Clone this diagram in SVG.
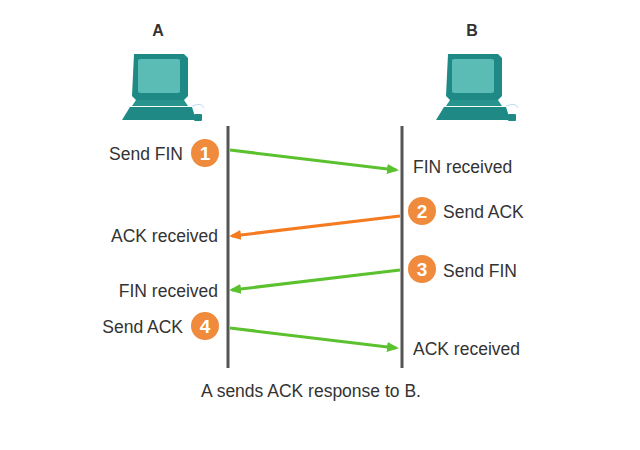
<svg xmlns="http://www.w3.org/2000/svg" width="640" height="450" viewBox="0 0 640 450">
<style>
text{font-family:"Liberation Sans",Arial,sans-serif;font-size:17.5px;fill:#333}
.h{font-weight:bold;font-size:16px;text-anchor:middle}
.e{text-anchor:end}
.n{fill:#fff;font-weight:bold;font-size:19px;text-anchor:middle}
.c{fill:#f08a3c;stroke:#fff;stroke-width:2}
.g{stroke:#5cc12e;stroke-width:3;fill:none}
.o{stroke:#f47b20;stroke-width:3;fill:none}
.v{stroke:#555;stroke-width:3}
</style>
<defs>
<marker id="ag" markerWidth="12" markerHeight="10" refX="9" refY="5" orient="auto" markerUnits="userSpaceOnUse"><path d="M0,0 L12,5 L0,10 z" fill="#5cc12e"/></marker>
<marker id="ao" markerWidth="12" markerHeight="10" refX="9" refY="5" orient="auto" markerUnits="userSpaceOnUse"><path d="M0,0 L12,5 L0,10 z" fill="#f47b20"/></marker>
<g id="pc">
<path d="M12,0 L62,0 L66,4 L66,42 L62,46 L14,46 L10,42 Z" fill="#1f8a85"/>
<rect x="16" y="5" width="42" height="34" rx="2" fill="#5bbcb5"/>
<path d="M14,46 L62,46 L66,52 L10,52 Z" fill="#27948e"/>
<path d="M8,53 L70,53 L74,66 L0,66 Z" fill="#1f8a85"/>
<rect x="72" y="60" width="8" height="7" rx="1" fill="#1f8a85"/>
<path d="M70,52 Q80,48 82,54" stroke="#bde" fill="none" stroke-width="1"/>
</g>
</defs>
<text class="h" x="158" y="36">A</text>
<text class="h" x="472" y="36">B</text>
<use href="#pc" x="122" y="54"/>
<use href="#pc" x="436" y="54"/>
<g id="connectors">
<line class="v" x1="228" y1="126" x2="228" y2="368"/>
<line class="v" x1="402" y1="126" x2="402" y2="368"/>
<line class="g" x1="230" y1="150" x2="396" y2="170" marker-end="url(#ag)"/>
<line class="o" x1="400" y1="216" x2="232" y2="236" marker-end="url(#ao)"/>
<line class="g" x1="400" y1="270" x2="232" y2="290" marker-end="url(#ag)"/>
<line class="g" x1="230" y1="328" x2="396" y2="348" marker-end="url(#ag)"/>
</g>
<g id="s1"><circle class="c" cx="205" cy="153" r="15"/><text class="n" x="205" y="160">1</text></g>
<g id="s2"><circle class="c" cx="422" cy="211" r="15"/><text class="n" x="422" y="218">2</text></g>
<g id="s3"><circle class="c" cx="422" cy="269" r="15"/><text class="n" x="422" y="276">3</text></g>
<g id="s4"><circle class="c" cx="205" cy="326" r="15"/><text class="n" x="205" y="333">4</text></g>
<text class="e" x="183" y="160">Send FIN</text>
<text x="413" y="173">FIN received</text>
<text x="443" y="218">Send ACK</text>
<text class="e" x="218" y="242">ACK received</text>
<text x="443" y="277">Send FIN</text>
<text class="e" x="218" y="297">FIN received</text>
<text class="e" x="183" y="333">Send ACK</text>
<text x="413" y="355">ACK received</text>
<text x="311" y="397" style="text-anchor:middle">A sends ACK response to B.</text>
</svg>
